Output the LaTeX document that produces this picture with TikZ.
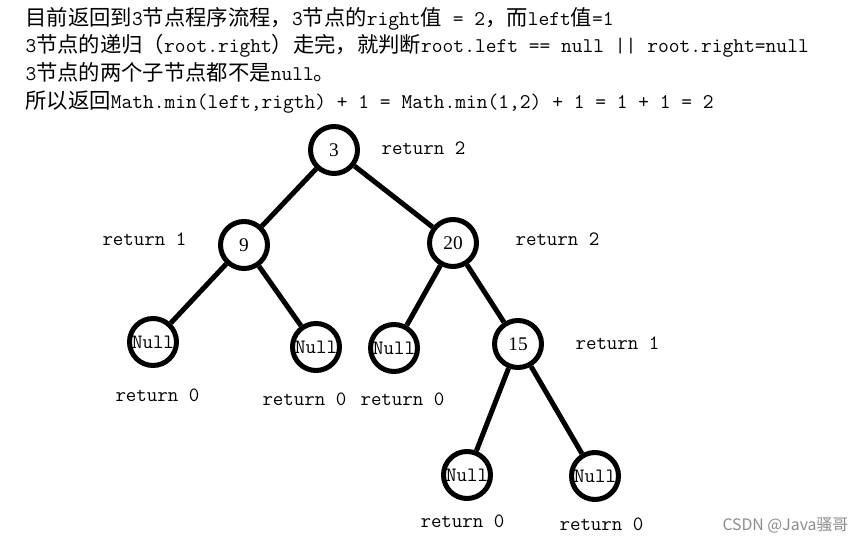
\documentclass[tikz,border=0pt]{standalone}
\usepackage{fontspec}
\newfontfamily\cjk{Noto Sans CJK SC}[Scale=1.02]
\newfontfamily\numfont{Liberation Serif}
\newfontfamily\markfont{Noto Sans CJK SC}

\begin{document}
\begin{tikzpicture}[x=0.02cm,y=-0.02cm,line width=0.1cm,
  treenode/.style={draw,circle,minimum size=0.94cm,inner sep=0pt,font=\fontsize{11}{13}\selectfont\numfont},
  nullnode/.style={treenode,font=\fontsize{11.6}{14}\selectfont\ttfamily},
  retlabel/.style={anchor=base west,inner sep=0pt,font=\fontsize{11.6}{14}\selectfont\ttfamily},
  textline/.style={anchor=base west,inner sep=0pt,font=\fontsize{11.9}{14}\selectfont\ttfamily}]

\useasboundingbox (0,0) rectangle (858,536);

% 1
\node[textline] (TextA1) at (23,26) {{\cjk 目前返回到}3{\cjk 节点程序流程，}3{\cjk 节点的}right{\cjk 值} = 2{\cjk ，而}left{\cjk 值}=1};
\node[textline] (TextA2) at (23,53) {3{\cjk 节点的递归（}root.right{\cjk ）走完，就判断}root.left == null || root.right=null};
\node[textline] (TextA3) at (23,81) {3{\cjk 节点的两个子节点都不是}null{\cjk 。}};
\node[textline] (TextA4) at (23,109) {{\cjk 所以返回}Math.min(left,rigth) + 1 = Math.min(1,2) + 1 = 1 + 1 = 2};


% 2
\node[treenode] (NodeA) at (334,150) {3};

\node[treenode] (NodeB1) at (244,245) {9};
\node[treenode] (NodeB2) at (453,243) {20};

\node[nullnode] (NullC1) at (153,342) {Null};
\node[nullnode] (NullC2) at (316,347) {Null};
\node[nullnode] (NullC3) at (394,348) {Null};
\node[treenode] (NodeC4) at (518,344) {15};

\node[nullnode] (NullD1) at (467,475) {Null};
\node[nullnode] (NullD2) at (595,476) {Null};


\draw (NodeA) -- (NodeB1);
\draw (NodeA) -- (NodeB2);
\draw (NodeB1) -- (NullC1);
\draw (NodeB1) -- (NullC2);
\draw (NodeB2) -- (NullC3);
\draw (NodeB2) -- (NodeC4);
\draw (NodeC4) -- (NullD1);
\draw (NodeC4) -- (NullD2);


% 3
\node[retlabel] (ReturnA) at (379,155) {return 2};
\node[retlabel] (ReturnB1) at (100,246) {return 1};
\node[retlabel] (ReturnB2) at (513,246) {return 2};
\node[retlabel] (ReturnC1) at (113,401) {return 0};
\node[retlabel] (ReturnC2) at (260,406) {return 0};
\node[retlabel] (ReturnC3) at (358,406) {return 0};
\node[retlabel] (ReturnC4) at (573,350) {return 1};
\node[retlabel] (ReturnD1) at (418,527) {return 0};
\node[retlabel] (ReturnD2) at (557,530) {return 0};


\node[anchor=base west,inner sep=0pt,text=black!45,font=\fontsize{9}{11}\selectfont\markfont] (Mark) at (720,530) {CSDN @Java骚哥};

\end{tikzpicture}
\end{document}
